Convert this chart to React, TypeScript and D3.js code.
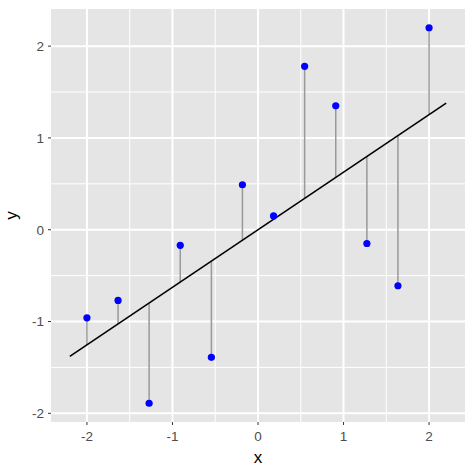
import React from "react";
import * as d3 from "d3";

const xValues = [-2, -1.636, -1.273, -0.909, -0.545, -0.182, 0.182, 0.545, 0.909, 1.273, 1.636, 2];
const yValues = [-0.96, -0.77, -1.89, -0.17, -1.39, 0.49, 0.15, 1.78, 1.35, -0.15, -0.61, 2.2];
const fitX = [-2.2, 2.2];
const fitY = [-1.38, 1.38];
const xTicks = [-2, -1, 0, 1, 2];
const yTicks = [-2, -1, 0, 1, 2];
const xMinor = [-1.5, -0.5, 0.5, 1.5];
const yMinor = [-1.5, -0.5, 0.5, 1.5];

export default function App() {
  const W = 474, H = 474;
  const left = 51, right = 465, top = 9, bottom = 422;
  const x = d3.scaleLinear().domain([-2.42, 2.42]).range([left, right]);
  const y = d3.scaleLinear().domain([-2.0945, 2.4045]).range([bottom, top]);
  const fit = d3.scaleLinear().domain(fitX).range(fitY);
  const line = d3.line<number>().x((d) => x(d)).y((d) => y(fit(d)));
  const font = "Liberation Sans, Arial, sans-serif";
  return (
    <svg width={W} height={H} style={{ position: "absolute", left: 0, top: 0 }}>
      <rect x={0} y={0} width={W} height={H} fill="#fff" />
      <rect x={left} y={top} width={right - left} height={bottom - top} fill="#e5e5e5" />
      {xMinor.map((v) => (
        <line key={"xm" + v} x1={x(v)} x2={x(v)} y1={top} y2={bottom} stroke="#fff" strokeWidth={1} />
      ))}
      {yMinor.map((v) => (
        <line key={"ym" + v} y1={y(v)} y2={y(v)} x1={left} x2={right} stroke="#fff" strokeWidth={1} />
      ))}
      {xTicks.map((v) => (
        <line key={"xM" + v} x1={x(v)} x2={x(v)} y1={top} y2={bottom} stroke="#fff" strokeWidth={2} />
      ))}
      {yTicks.map((v) => (
        <line key={"yM" + v} y1={y(v)} y2={y(v)} x1={left} x2={right} stroke="#fff" strokeWidth={2} />
      ))}
      {xValues.map((v, i) => (
        <line key={"s" + i} x1={x(v)} x2={x(v)} y1={y(yValues[i])} y2={y(fit(v))} stroke="#999" strokeWidth={1.5} />
      ))}
      <path d={line(fitX) || ""} fill="none" stroke="#000" strokeWidth={1.6} />
      {xValues.map((v, i) => (
        <circle key={"p" + i} cx={x(v)} cy={y(yValues[i])} r={3.6} fill="#0000ff" />
      ))}
      {xTicks.map((v) => (
        <g key={"xt" + v}>
          <line x1={x(v)} x2={x(v)} y1={bottom} y2={bottom + 3} stroke="#333" strokeWidth={1} />
          <text x={x(v)} y={441} textAnchor="middle" fontFamily={font} fontSize={13.5} fill="#4d4d4d">
            {v}
          </text>
        </g>
      ))}
      {yTicks.map((v) => (
        <g key={"yt" + v}>
          <line x1={left - 3} x2={left} y1={y(v)} y2={y(v)} stroke="#333" strokeWidth={1} />
          <text x={left - 7} y={y(v) + 4.8} textAnchor="end" fontFamily={font} fontSize={13.5} fill="#4d4d4d">
            {v}
          </text>
        </g>
      ))}
      <text x={(left + right) / 2} y={462.5} textAnchor="middle" fontFamily={font} fontSize={17} fill="#000">
        x
      </text>
      <text
        transform={`translate(${16.5},${(top + bottom) / 2}) rotate(-90)`}
        textAnchor="middle"
        fontFamily={font}
        fontSize={17}
        fill="#000"
      >
        y
      </text>
    </svg>
  );
}
